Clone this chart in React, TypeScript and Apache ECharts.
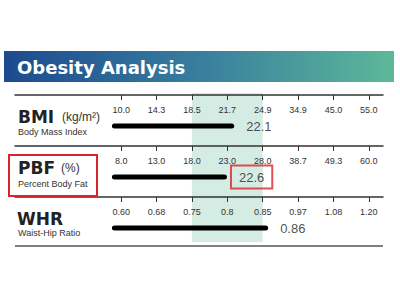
import React, { useEffect, useRef } from "react";
import * as echarts from "echarts";

const ROWS = ["BMI", "PBF", "WHR"];
const BMI_TICKS = ["10.0", "14.3", "18.5", "21.7", "24.9", "34.9", "45.0", "55.0"];
const PBF_TICKS = ["8.0", "13.0", "18.0", "23.0", "28.0", "38.7", "49.3", "60.0"];
const WHR_TICKS = ["0.60", "0.68", "0.75", "0.8", "0.85", "0.97", "1.08", "1.20"];
const VALUES = [22.1, 22.6, 0.86];
const VALUE_LABELS = ["22.1", "22.6", "0.86"];
const NORMAL_RANGE = ["18.5", "24.9"];

const TICK_SETS = [BMI_TICKS, PBF_TICKS, WHR_TICKS];

// piecewise-linear scale: value -> tick index
function toIndex(v: number, ticks: string[]) {
  const t = ticks.map(Number);
  for (let i = 0; i < t.length - 1; i++) {
    if (v >= t[i] && v <= t[i + 1]) return i + (v - t[i]) / (t[i + 1] - t[i]);
  }
  return v < t[0] ? 0 : t.length - 1;
}

const BAR_START = -0.19;
const AX_MIN = -3;
const AX_MAX = 7.4;
const ROW_TOPS = [95, 146, 197];
const LEFT = 15;
const WIDTH = 368;

export default function App() {
  const ref = useRef<HTMLDivElement>(null);
  useEffect(() => {
    if (!ref.current) return;
    const chart = echarts.init(ref.current, null, { renderer: "svg" });
    const tickIdx = BMI_TICKS.map((_, i) => i);

    const grids: any[] = ROW_TOPS.map((top) => ({ left: LEFT, width: WIDTH, top, height: 62 }));
    grids.push({ left: LEFT, width: WIDTH, top: 93, height: 149 });

    const xAxes: any[] = TICK_SETS.map((ticks, gi) => ({
      type: "value",
      gridIndex: gi,
      position: "top",
      min: AX_MIN,
      max: AX_MAX,
      z: 5,
      splitLine: { show: false },
      axisLine: { show: true, lineStyle: { color: "#333", width: 1.5 } },
      axisTick: { show: true, inside: true, length: 5, customValues: tickIdx, lineStyle: { color: "#333", width: 1 } },
      axisLabel: {
        show: true,
        inside: true,
        margin: 10,
        customValues: tickIdx,
        fontSize: 9,
        color: "#333",
        fontFamily: "Liberation Sans",
        formatter: (v: number) => ticks[Math.round(v)] ?? "",
      },
    }));
    xAxes.push({ type: "value", gridIndex: 3, min: AX_MIN, max: AX_MAX, show: false });

    const yAxes: any[] = ROWS.map((r, gi) => ({ type: "category", gridIndex: gi, data: [r], show: false }));
    yAxes.push({ type: "value", gridIndex: 3, min: 0, max: 1, show: false });

    const series: any[] = [];
    ROWS.forEach((r, gi) => {
      const end = toIndex(VALUES[gi], TICK_SETS[gi]);
      series.push({
        type: "line",
        xAxisIndex: gi,
        yAxisIndex: gi,
        z: 6,
        symbol: "none",
        lineStyle: { color: "#000", width: 5, cap: "round" },
        data: [
          [BAR_START, r],
          [end, r],
        ],
      });
      series.push({
        type: "scatter",
        xAxisIndex: gi,
        yAxisIndex: gi,
        z: 7,
        symbolSize: 1,
        itemStyle: { color: "rgba(0,0,0,0)" },
        label: {
          show: true,
          position: "right",
          distance: 6,
          formatter: VALUE_LABELS[gi],
          fontSize: 13,
          color: "#222",
          fontFamily: "Liberation Sans",
          padding: [5, 8],
          borderColor: gi === 1 ? "#d7262b" : "transparent",
          borderWidth: gi === 1 ? 2 : 0,
        },
        data: [[end, r]],
      });
    });
    series.push({
      type: "line",
      xAxisIndex: 3,
      yAxisIndex: 3,
      z: 1,
      data: [],
      markArea: {
        silent: true,
        itemStyle: { color: "#d4ece3" },
        data: [[{ xAxis: toIndex(Number(NORMAL_RANGE[0]), BMI_TICKS) }, { xAxis: toIndex(Number(NORMAL_RANGE[1]), BMI_TICKS) }]],
      },
    });

    const bigFont = "bold 17px 'DejaVu Sans'";
    const unitFont = "12px 'Liberation Sans'";
    const smallFont = "9px 'Liberation Sans'";

    chart.setOption({
      animation: false,
      backgroundColor: "#fff",
      grid: grids,
      xAxis: xAxes,
      yAxis: yAxes,
      series,
      graphic: [
        {
          type: "rect",
          shape: { x: 4, y: 51, width: 390, height: 31 },
          style: {
            fill: new echarts.graphic.LinearGradient(0, 0, 1, 0, [
              { offset: 0, color: "#1c4a8f" },
              { offset: 0.5, color: "#387e9e" },
              { offset: 1, color: "#5cb899" },
            ]),
          },
        },
        { type: "text", x: 17, y: 67, style: { text: "Obesity Analysis", font: "bold 18px 'DejaVu Sans'", fill: "#fff", verticalAlign: "middle" } },
        { type: "text", x: 18, y: 117, style: { text: "BMI", font: bigFont, fill: "#222", verticalAlign: "middle" } },
        { type: "text", x: 62, y: 117, style: { text: "(kg/m²)", font: unitFont, fill: "#333", verticalAlign: "middle" } },
        { type: "text", x: 18, y: 132, style: { text: "Body Mass Index", font: smallFont, fill: "#333", verticalAlign: "middle" } },
        { type: "text", x: 18, y: 168, style: { text: "PBF", font: bigFont, fill: "#222", verticalAlign: "middle" } },
        { type: "text", x: 61, y: 168, style: { text: "(%)", font: unitFont, fill: "#333", verticalAlign: "middle" } },
        { type: "text", x: 18, y: 184, style: { text: "Percent Body Fat", font: smallFont, fill: "#333", verticalAlign: "middle" } },
        { type: "text", x: 17, y: 219, style: { text: "WHR", font: bigFont, fill: "#222", verticalAlign: "middle" } },
        { type: "text", x: 18, y: 233, style: { text: "Waist-Hip Ratio", font: smallFont, fill: "#333", verticalAlign: "middle" } },
        { type: "rect", shape: { x: 9, y: 155, width: 88, height: 41 }, style: { fill: "none", stroke: "#d7262b", lineWidth: 2 }, z: 10 },
        { type: "line", shape: { x1: 15, y1: 246, x2: 383, y2: 246 }, style: { stroke: "#555", lineWidth: 1.5 } },
      ],
    });
    return () => chart.dispose();
  }, []);
  return <div ref={ref} style={{ position: "fixed", left: 0, top: 0, width: 400, height: 300 }} />;
}
